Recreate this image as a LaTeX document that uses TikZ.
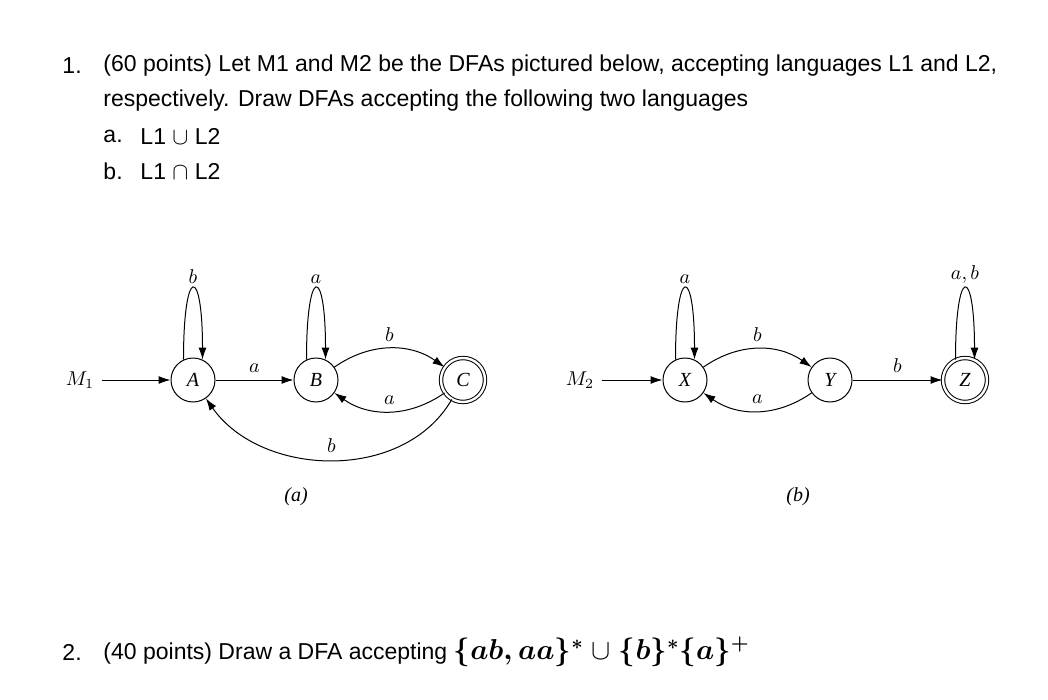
\documentclass[tikz,border=0pt]{standalone}
\usepackage{amsmath,amssymb}
\usepackage{fontspec}
\setmainfont{Liberation Sans}
\newfontfamily\labfont{Liberation Serif}
\usetikzlibrary{arrows.meta}
\begin{document}
\begin{tikzpicture}[x=0.5pt, y=-0.5pt, thick, >={Latex[length=6pt,width=4pt]},
    state/.style = {draw, circle, line width=0.5pt, minimum size=22pt, inner sep=0pt, font=\labfont\itshape},
    accept/.style = {state, double, double distance=1.2pt},
    lab/.style = {font=\labfont\itshape},
    txt/.style = {anchor=west, font=\fontsize{11.5}{14}\selectfont},
    tr/.style = {->, line width=0.5pt},
    selfloop/.style = {tr, to path={(\tikztostart.115) .. controls +(0,-95) and +(0,-95) .. (\tikztostart.65) \tikztonodes}}]
    \useasboundingbox (0,0) rectangle (1048,700);
    % text of the exercise
    \node[txt] (n1) at (55,66) {1.};
    \node[txt] (q1) at (96,66) {(60 points) Let M1 and M2 be the DFAs pictured below, accepting languages L1 and L2,};
    \node[txt] (q1b) at (96,101) {respectively. Draw DFAs accepting the following two languages};
    \node[txt] (ia) at (96,136) {a.};
    \node[txt] (la) at (133,136) {L1 $\cup$ L2};
    \node[txt] (ib) at (96,171) {b.};
    \node[txt] (lb) at (133,171) {L1 $\cap$ L2};
    \node[txt] (n2) at (55,652) {2.};
    \node[txt] (q2) at (96,652) {(40 points) Draw a DFA accepting \Large$\boldsymbol{\{ab,aa\}^*}$ $\cup$ $\boldsymbol{\{b\}^*\{a\}^+}$};
    % M1
    \node[lab] (M1) at (80,380) {$M_1$};
    \node[state] (A) at (193,380) {A};
    \node[state] (B) at (316,380) {B};
    \node[accept] (C) at (463,380) {C};
    \node[lab] (capa) at (296,497) {(a)};
    \draw[tr] (M1) -- (A);
    \draw[selfloop] (A) to node[lab,pos=0.5,above=-1pt] {$b$} (A);
    \draw[selfloop] (B) to node[lab,pos=0.5,above=-1pt] {$a$} (B);
    \draw[tr] (A) -- node[lab,above] {$a$} (B);
    \draw[tr] (B) to[bend left=35] node[lab,above] {$b$} (C);
    \draw[tr] (C) to[bend left=35] node[lab,above] {$a$} (B);
    \draw[tr] (C) to[out=-120,in=-55] node[lab,above] {$b$} (A);
    % M2
    \node[lab] (M2) at (580,380) {$M_2$};
    \node[state] (X) at (685,380) {X};
    \node[state] (Y) at (830,380) {Y};
    \node[accept] (Z) at (965,380) {Z};
    \node[lab] (capb) at (798,497) {(b)};
    \draw[tr] (M2) -- (X);
    \draw[selfloop] (X) to node[lab,pos=0.5,above=-1pt] {$a$} (X);
    \draw[selfloop] (Z) to node[lab,pos=0.5,above=-1pt] {$a,b$} (Z);
    \draw[tr] (X) to[bend left=35] node[lab,above] {$b$} (Y);
    \draw[tr] (Y) to[bend left=35] node[lab,above] {$a$} (X);
    \draw[tr] (Y) -- node[lab,above] {$b$} (Z);
\end{tikzpicture}
\end{document}
